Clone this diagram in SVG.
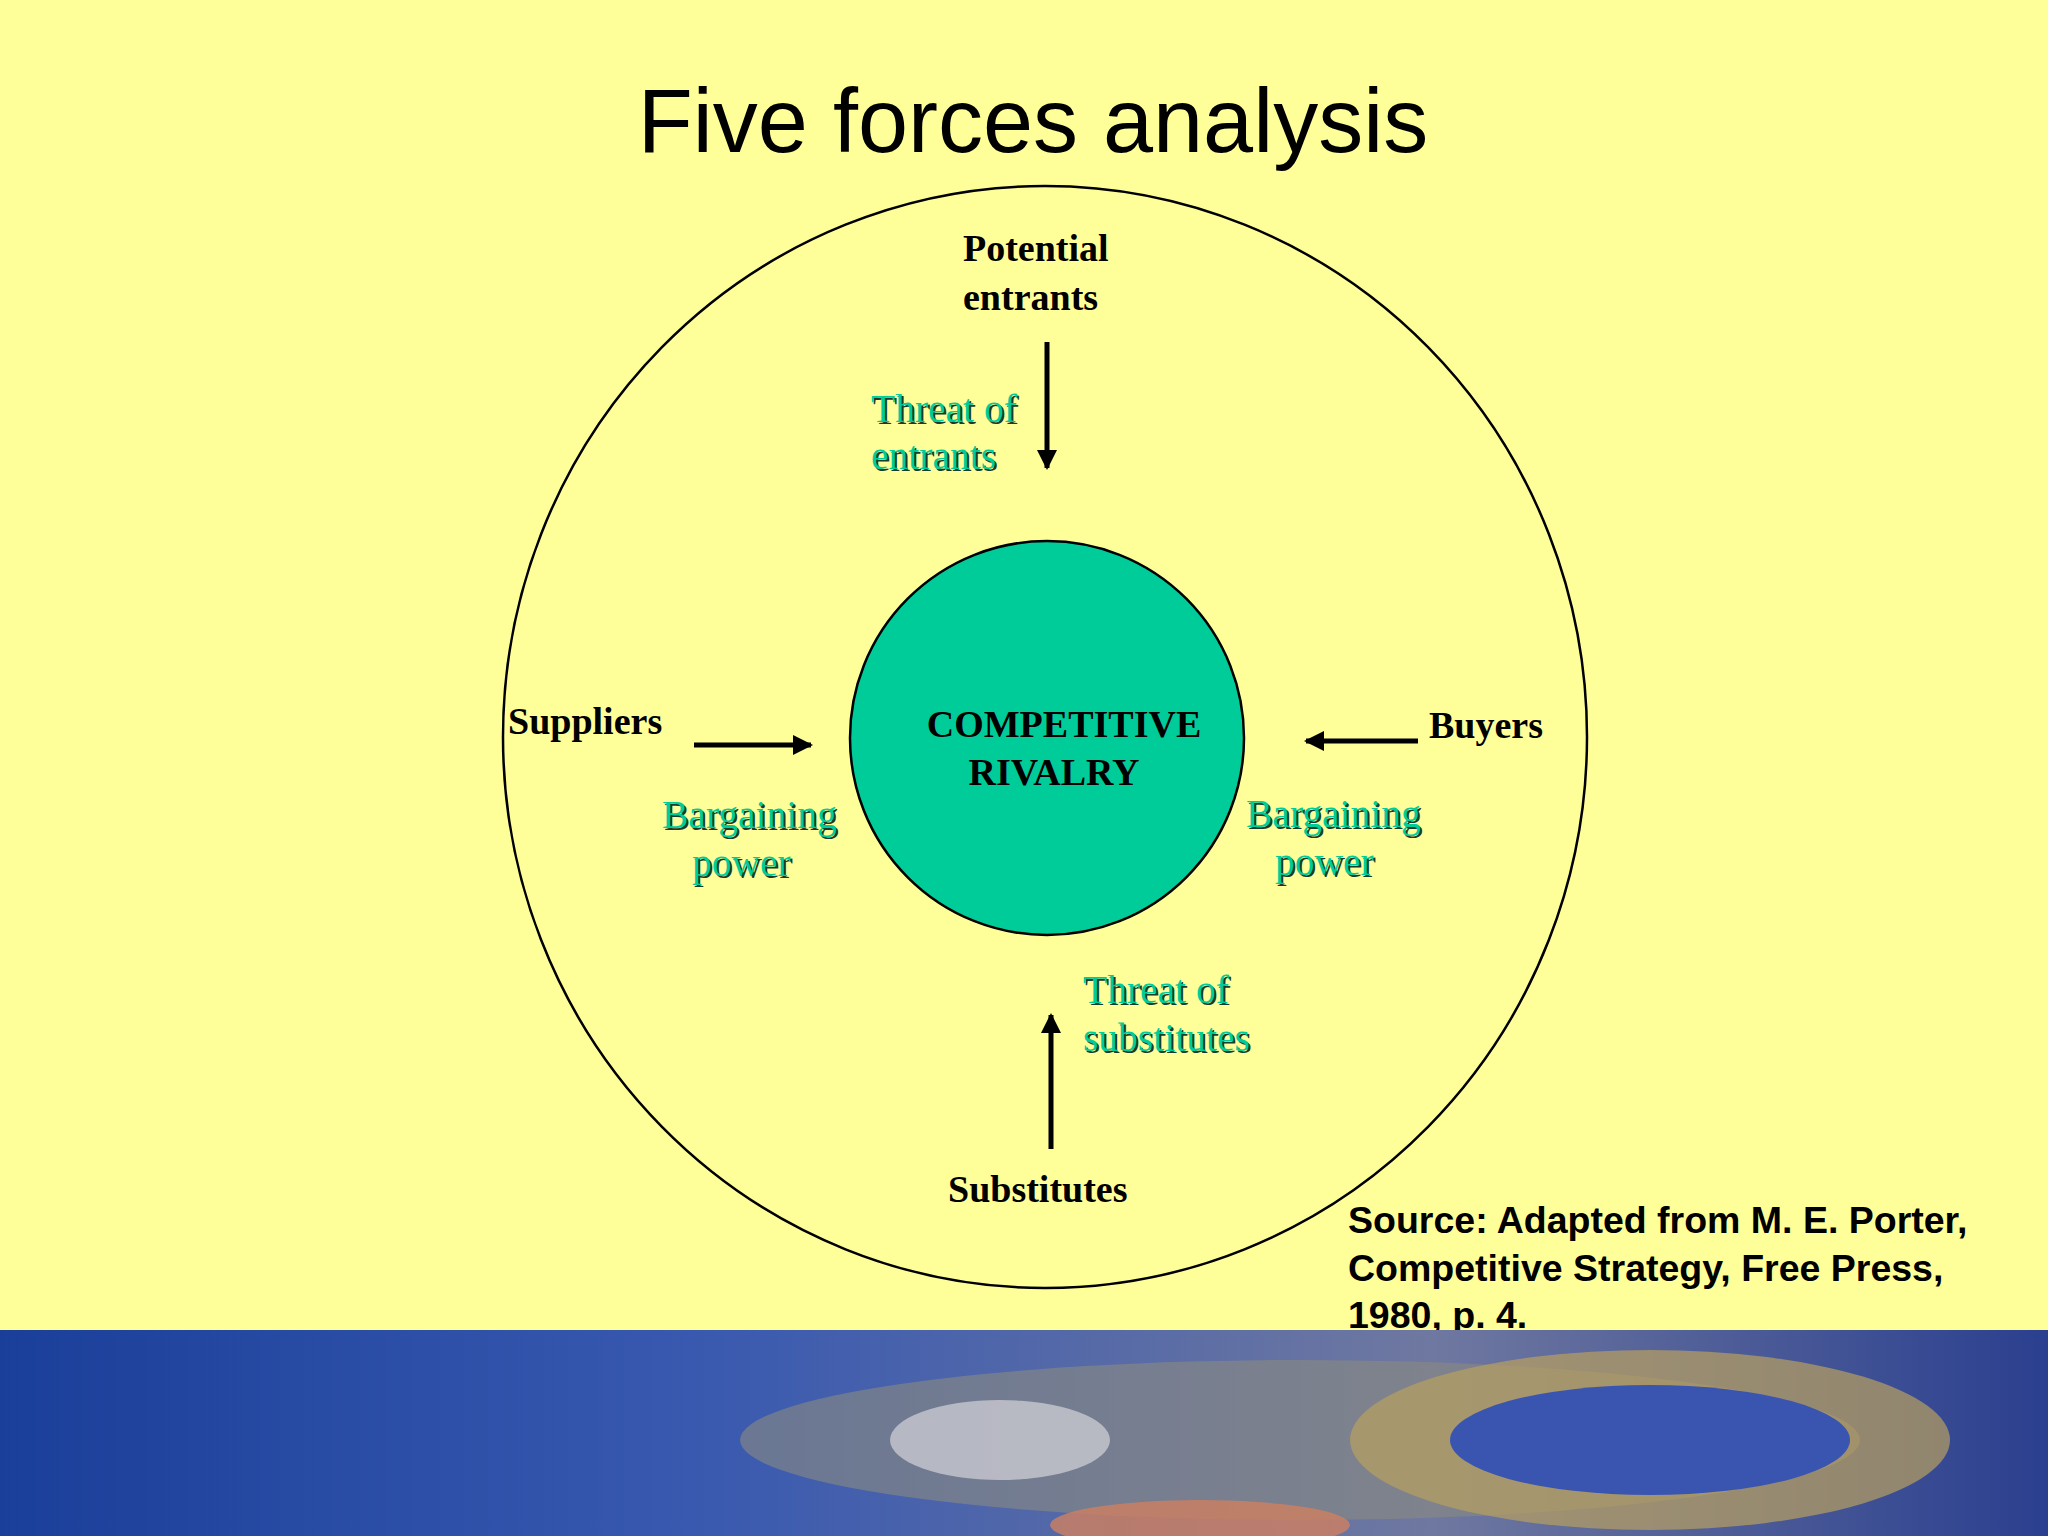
<svg xmlns="http://www.w3.org/2000/svg" width="2048" height="1536" viewBox="0 0 2048 1536">
<defs>
<style>
.lbl{font-family:"Liberation Serif",serif;font-weight:bold;font-size:38px;fill:#000}
.grn{font-family:"Liberation Serif",serif;font-size:39.5px;fill:#00CC99}
.sh{font-family:"Liberation Serif",serif;font-size:39.5px;fill:#1a3a2a}
.src{font-family:"Liberation Sans",Arial,sans-serif;font-weight:bold;font-size:37.5px;fill:#000}
.arr{stroke:#000;stroke-width:5;fill:none;marker-end:url(#ah)}
</style>
<marker id="ah" viewBox="0 0 10 10" refX="9" refY="5" markerWidth="4" markerHeight="4" orient="auto"><path d="M0,0L10,5L0,10z" fill="#000"/></marker>
<linearGradient id="band" x1="0" y1="0" x2="1" y2="0">
<stop offset="0" stop-color="#1a3f9a"/><stop offset="0.35" stop-color="#3a5ab0"/><stop offset="0.7" stop-color="#6f78a0"/><stop offset="1" stop-color="#2a3f8f"/></linearGradient>
</defs>
<rect width="2048" height="1536" fill="#FFFF99"/>
<text x="1033" y="152" text-anchor="middle" font-family="Liberation Sans,Arial,sans-serif" font-size="90" fill="#000">Five forces analysis</text>
<g id="outer"><ellipse cx="1045" cy="737" rx="542" ry="551" fill="none" stroke="#000" stroke-width="2.5"/></g>
<g id="rivalry"><circle cx="1047" cy="738" r="197" fill="#00CC99" stroke="#000" stroke-width="2.5"/>
<text class="lbl" x="1064" y="737" text-anchor="middle">COMPETITIVE</text><text class="lbl" x="1054" y="785" text-anchor="middle">RIVALRY</text></g>
<g id="entrants"><text class="lbl" x="963" y="261">Potential</text><text class="lbl" x="963" y="310">entrants</text></g>
<g id="suppliers"><text class="lbl" x="508" y="734">Suppliers</text></g>
<g id="buyers"><text class="lbl" x="1429" y="738">Buyers</text></g>
<g id="substitutes"><text class="lbl" x="948" y="1202">Substitutes</text></g>
<g id="labels">
<text class="sh" x="873" y="424">Threat of</text><text class="grn" x="871" y="422">Threat of</text>
<text class="sh" x="873" y="471">entrants</text><text class="grn" x="871" y="469">entrants</text>
<text class="sh" x="664" y="830">Bargaining</text><text class="grn" x="662" y="828">Bargaining</text>
<text class="sh" x="694" y="878">power</text><text class="grn" x="692" y="876">power</text>
<text class="sh" x="1248" y="829">Bargaining</text><text class="grn" x="1246" y="827">Bargaining</text>
<text class="sh" x="1277" y="877">power</text><text class="grn" x="1275" y="875">power</text>
<text class="sh" x="1085" y="1005">Threat of</text><text class="grn" x="1083" y="1003">Threat of</text>
<text class="sh" x="1085" y="1053">substitutes</text><text class="grn" x="1083" y="1051">substitutes</text>
</g>
<g id="connectors">
<line class="arr" x1="1047" y1="342" x2="1047" y2="468"/>
<line class="arr" x1="694" y1="745" x2="811" y2="745"/>
<line class="arr" x1="1418" y1="741" x2="1306" y2="741"/>
<line class="arr" x1="1051" y1="1149" x2="1051" y2="1015"/>
</g>
<g id="source"><text class="src" x="1348" y="1233">Source: Adapted from M. E. Porter,</text><text class="src" x="1348" y="1281">Competitive Strategy, Free Press,</text><text class="src" x="1348" y="1328">1980, p. 4.</text></g>
<g id="band">
<rect x="0" y="1330" width="2048" height="206" fill="url(#band)"/>
<ellipse cx="1300" cy="1440" rx="560" ry="80" fill="#8a8a80" opacity="0.6"/>
<ellipse cx="1650" cy="1440" rx="300" ry="90" fill="#b8a060" opacity="0.7"/>
<ellipse cx="1650" cy="1440" rx="200" ry="55" fill="#3a55b0"/>
<ellipse cx="1000" cy="1440" rx="110" ry="40" fill="#c8c8d0" opacity="0.8"/>
<ellipse cx="1200" cy="1525" rx="150" ry="25" fill="#d08060" opacity="0.8"/>
</g>
</svg>
